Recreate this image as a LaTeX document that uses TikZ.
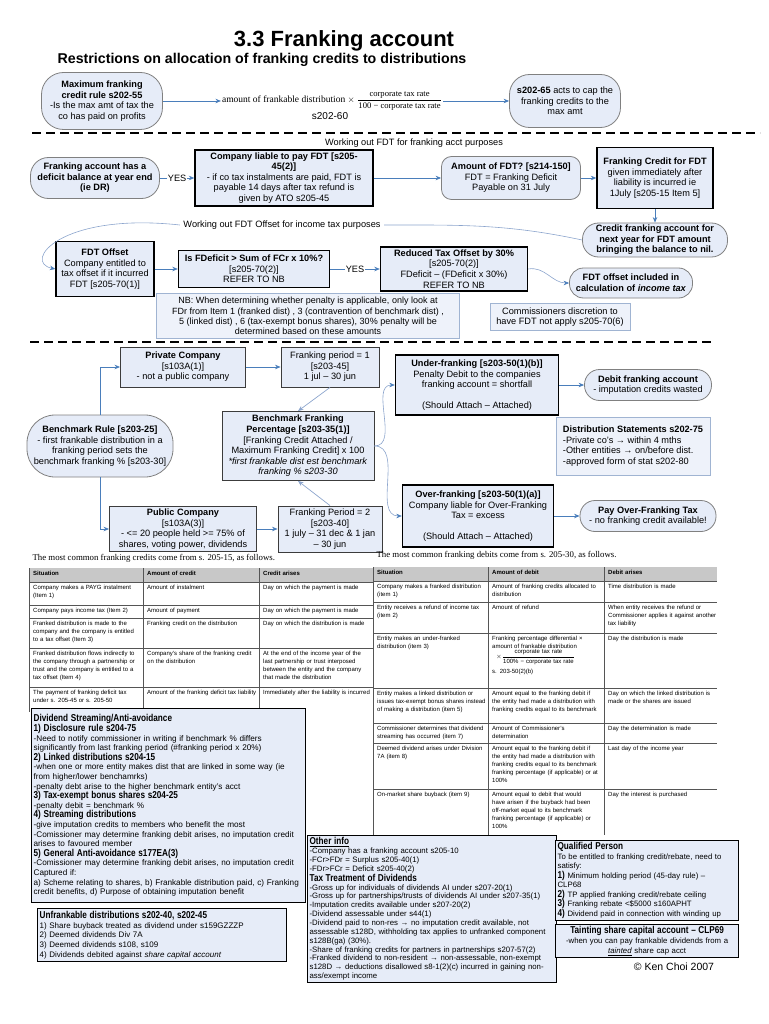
\documentclass[tikz,border=0pt]{standalone}
\usepackage{amsmath}
\usepackage{fontspec}
\setmainfont{Liberation Sans}
\newfontfamily\narrowface{Liberation Sans}[FakeStretch=0.82]
\newfontfamily\serifface{Liberation Serif}
\usetikzlibrary{arrows.meta}
\definecolor{boxfill}{RGB}{230,236,248}
\definecolor{notefill}{RGB}{238,242,250}
\definecolor{noteedge}{RGB}{160,180,210}
\definecolor{pillgray}{RGB}{128,128,128}
\definecolor{darkedge}{RGB}{60,60,60}
\definecolor{linkblue}{RGB}{74,126,187}
\definecolor{swirlblue}{RGB}{140,165,205}
\definecolor{headgray}{RGB}{200,200,200}
\definecolor{rulegray}{RGB}{85,85,85}
\newcommand\tabfont{\fontsize{6}{8}\selectfont\hyphenpenalty=10000\exhyphenpenalty=10000\relax}
\newcommand\headfont{\narrowface\bfseries\fontsize{10}{11}\selectfont}
\newcommand\capfont{\serifface\fontsize{8.8}{10}\selectfont}

\tikzset{
  base/.style={align=center, inner sep=1pt, fill=boxfill},
  pill/.style={base, draw=pillgray, line width=0.8pt, rounded corners=#1},
  pill/.default=12pt,
  heavy/.style={base, draw=black, line width=1.4pt},
  plainbox/.style={base, draw=darkedge, line width=0.9pt},
  note/.style={base, draw=noteedge, fill=notefill, line width=0.6pt},
  panel/.style={base, draw=black, line width=1.2pt, align=left, anchor=north west, inner sep=2pt, text width=#1},
  panel/.default=240pt,
  link/.style={draw=linkblue, line width=0.7pt, -{Stealth[length=5.5pt,width=4.5pt]}},
  swirl/.style={draw=swirlblue, line width=0.6pt},
  swirltip/.style={-{Stealth[length=5.5pt,width=4.5pt,color=linkblue]}},
  cut/.style={line width=1.3pt, dash pattern=on 9pt off 5pt},
  cell/.style={anchor=north west, inner sep=0pt, text width=#1, align=left, font=\tabfont},
  cell/.default=110pt,
  tabrule/.style={draw=rulegray, line width=0.8pt},
}

\begin{document}
\begin{tikzpicture}[x=1pt, y=-1pt, every node/.style={font=\fontsize{9.2}{10.6}\selectfont}]
\useasboundingbox (0,0) rectangle (768,1024);

% headings
\node[font=\fontsize{22}{26}\selectfont\bfseries] (title) at (344,41) {3.3 Franking account};
\node[font=\fontsize{14.2}{16}\selectfont\bfseries] (subtitle) at (262,60) {Restrictions on allocation of franking credits to distributions};

% maximum franking credit rule
\node[pill=22pt, minimum width=121pt, minimum height=57pt] (maxrule) at (102,101) {\textbf{Maximum franking}\\\textbf{credit rule s202-55}\\-Is the max amt of tax the\\co has paid on profits};
\node[font=\serifface\fontsize{9.5}{11}\selectfont, inner sep=1pt] (formula) at (332,101) {amount of frankable distribution $\times$ $\dfrac{\mbox{\fontsize{8.6}{9}\selectfont corporate tax rate}}{\mbox{\fontsize{8.6}{9}\selectfont 100 − corporate tax rate}}$};
\node[font=\fontsize{10}{12}\selectfont] (ruleref) at (330,116) {s202-60};
\node[pill=20pt, minimum width=111pt, minimum height=53pt] (capbox) at (565,101) {\textbf{s202-65} acts to cap the\\franking credits to the\\max amt};
\draw[link] (maxrule) -- (formula);
\draw[link] (formula) -- (capbox);

\draw[cut] (32,133) -- (760,133);
\node (fdtnote) at (414,143) {Working out FDT for franking acct purposes};

% franking deficit tax
\node[pill=18pt, minimum width=129pt, minimum height=41pt] (deficit) at (95,178) {\textbf{Franking account has a}\\\textbf{deficit balance at year end}\\\textbf{(ie DR)}};
\node[heavy, minimum width=178pt, minimum height=56pt] (liable) at (284,178) {\textbf{Company liable to pay FDT [s205-}\\\textbf{45(2)]}\\- if co tax instalments are paid, FDT is\\payable 14 days after tax refund is\\given by ATO s205-45};
\node[pill=10pt, minimum width=139pt, minimum height=43pt] (amount) at (511,178) {\textbf{Amount of FDT? [s214-150]}\\FDT = Franking Deficit\\Payable on 31 July};
\node[heavy, minimum width=116pt, minimum height=61pt] (frcredit) at (655,178) {\textbf{Franking Credit for FDT}\\given immediately after\\liability is incurred ie\\1July [s205-15 Item 5]};
\node[pill=16pt, minimum width=145pt, minimum height=34pt] (crediting) at (655,240) {\textbf{Credit franking account for}\\\textbf{next year for FDT amount}\\\textbf{bringing the balance to nil.}};
\draw[link] (deficit) -- node[fill=white, inner sep=1pt] (yesa) {YES} (liable);
\draw[link] (liable) -- (amount);
\draw[link] (amount) -- (frcredit);
\draw[link] (frcredit) -- (crediting);

% FDT offset
\node (offsetnote) at (282,225) {Working out FDT Offset for income tax purposes};
\node[heavy, minimum width=98pt, minimum height=55pt] (fdtoffset) at (105,269) {\textbf{FDT Offset}\\Company entitled to\\tax offset if it incurred\\FDT [s205-70(1)]};
\node[heavy, minimum width=151pt, minimum height=37pt] (isfdef) at (254,269) {\textbf{Is FDeficit > Sum of FCr x 10\%?}\\{[s205-70(2)]}\\REFER TO NB};
\node[heavy, minimum width=147pt, minimum height=44pt] (reduced) at (454,269) {\textbf{Reduced Tax Offset by 30\%}\\{[s205-70(2)]}\\FDeficit – (FDeficit x 30\%)\\REFER TO NB};
\node[pill=14pt, minimum width=123pt, minimum height=30pt] (fdtincl) at (631,283) {\textbf{FDT offset included in}\\\textbf{calculation of \textit{income tax}}};
\node[note, minimum width=303pt, minimum height=45pt, font=\fontsize{9}{10.4}\selectfont] (nbnote) at (308,316) {NB: When determining whether penalty is applicable, only look at\\FDr from Item 1 (franked dist) , 3 (contravention of benchmark dist) ,\\5 (linked dist) , 6 (tax-exempt bonus shares), 30\% penalty will be\\determined based on these amounts};
\node[note, minimum width=140pt, minimum height=27pt] (discretion) at (560,317) {Commissioners discretion to\\have FDT not apply s205-70(6)};
\draw[swirl] (crediting.west) to[out=168, in=0] (offsetnote.east);
\draw[swirl, swirltip] (offsetnote.west) .. controls (60,212) and (22,262) .. (fdtoffset.west);
\draw[link] (fdtoffset) -- (isfdef);
\draw[link] (isfdef) -- node[fill=white, inner sep=1pt] (yesb) {YES} (reduced);
\draw[swirl, swirltip] (reduced.east) to[out=10, in=180] (fdtincl.west);

\draw[cut] (30,342) -- (715,342);

% benchmark rule
\node[pill=28pt, minimum width=146pt, minimum height=62pt] (bench) at (100,446) {\textbf{Benchmark Rule [s203-25]}\\- first frankable distribution in a\\franking period sets the\\benchmark franking \% [s203-30]};
\node[plainbox, minimum width=125pt, minimum height=40pt] (private) at (183,367) {\textbf{Private Company}\\{[s103A(1)]}\\- not a public company};
\node[plainbox, minimum width=98pt, minimum height=40pt] (periodone) at (330,367) {Franking period = 1\\{[s203-45]}\\1 jul – 30 jun};
\node[plainbox, minimum width=152pt, minimum height=69pt] (bfp) at (298,446) {\textbf{Benchmark Franking}\\\textbf{Percentage [s203-35(1)]}\\{[Franking Credit Attached /}\\Maximum Franking Credit] x 100\\\textit{*first frankable dist est benchmark}\\\textit{franking \% s203-30}};
\node[plainbox, minimum width=147pt, minimum height=45pt] (public) at (183,529) {\textbf{Public Company}\\{[s103A(3)]}\\- <= 20 people held >= 75\% of\\shares, voting power, dividends};
\node[plainbox, minimum width=104pt, minimum height=46pt] (periodtwo) at (330,529) {Franking Period = 2\\{[s203-40]}\\1 july – 31 dec \& 1 jan\\– 30 jun};
\draw[link] (bench.north) |- (private.west);
\draw[link] (bench.south) |- (public.west);
\draw[link] (private) -- (periodone);
\draw[link] (public) -- (periodtwo);
\draw[link, draw=swirlblue] (periodone.south) -- (bfp.north);
\draw[link, draw=swirlblue] (periodtwo.north) -- (bfp.south);

% under / over franking
\node[heavy, minimum width=163pt, minimum height=60pt] (underfr) at (477,385) {\textbf{Under-franking [s203-50(1)(b)]}\\Penalty Debit to the companies\\franking account = shortfall\\[10pt](Should Attach – Attached)};
\node[pill=15pt, minimum width=127pt, minimum height=31pt] (debit) at (648,385) {\textbf{Debit franking account}\\- imputation credits wasted};
\node[note, align=left, minimum width=154pt, minimum height=58pt] (diststat) at (633,446) {\textbf{Distribution Statements s202-75}\\-Private co’s → within 4 mths\\-Other entities → on/before dist.\\-approved form of stat s202-80};
\node[heavy, minimum width=151pt, minimum height=62pt] (overfr) at (478,516) {\textbf{Over-franking [s203-50(1)(a)]}\\Company liable for Over-Franking\\Tax = excess\\[10pt](Should Attach – Attached)};
\node[pill=15pt, minimum width=136pt, minimum height=31pt] (paytax) at (648,516) {\textbf{Pay Over-Franking Tax}\\- no franking credit available!};
\draw[swirl, swirltip] (bfp.east) to[out=0, in=180] (underfr.west);
\draw[swirl, swirltip] (bfp.east) to[out=0, in=180] (overfr.west);
\draw[link] (underfr) -- (debit);
\draw[link] (overfr) -- (paytax);

% franking credits table
\node[anchor=west, font=\capfont] (credcap) at (29,558) {The most common franking credits come from s. 205-15, as follows.};
\fill[headgray] (29,568) rectangle (373,582);
\foreach \y in {582,605,618,648,687} \draw[tabrule] (29,\y) -- (373,\y);
\foreach \x in {29,143,259} \draw[tabrule] (\x,568) -- (\x,712);
\node[cell, font=\tabfont\bfseries] (ch1) at (33,571) {Situation};
\node[cell, font=\tabfont\bfseries] (ch2) at (147,571) {Amount of credit};
\node[cell, font=\tabfont\bfseries] (ch3) at (263,571) {Credit arises};
\node[cell] (ca1) at (33,585) {Company makes a PAYG instalment (Item 1)};
\node[cell] (cb1) at (147,585) {Amount of instalment};
\node[cell=106pt] (cc1) at (263,585) {Day on which the payment is made};
\node[cell] (ca2) at (33,608) {Company pays income tax (Item 2)};
\node[cell] (cb2) at (147,608) {Amount of payment};
\node[cell=106pt] (cc2) at (263,608) {Day on which the payment is made};
\node[cell] (ca3) at (33,621) {Franked distribution is made to the company and the company is entitled to a tax offset (Item 3)};
\node[cell] (cb3) at (147,621) {Franking credit on the distribution};
\node[cell=106pt] (cc3) at (263,621) {Day on which the distribution is made};
\node[cell] (ca4) at (33,651) {Franked distribution flows indirectly to the company through a partnership or trust and the company is entitled to a tax offset (Item 4)};
\node[cell] (cb4) at (147,651) {Company’s share of the franking credit on the distribution};
\node[cell=106pt] (cc4) at (263,651) {At the end of the income year of the last partnership or trust interposed between the entity and the company that made the distribution};
\node[cell] (ca5) at (33,690) {The payment of franking deficit tax under s. 205-45 or s. 205-50};
\node[cell] (cb5) at (147,690) {Amount of the franking deficit tax liability};
\node[cell=108pt] (cc5) at (263,690) {Immediately after the liability is incurred};

% franking debits table
\node[anchor=west, font=\capfont] (debcap) at (373,555) {The most common franking debits come from s. 205-30, as follows.};
\fill[headgray] (373,567) rectangle (717,581);
\foreach \y in {581,602,633,688,723,743,789} \draw[tabrule] (373,\y) -- (717,\y);
\foreach \x in {373,488,604} \draw[tabrule] (\x,567) -- (\x,835);
\node[cell, font=\tabfont\bfseries] (dh1) at (377,570) {Situation};
\node[cell, font=\tabfont\bfseries] (dh2) at (492,570) {Amount of debit};
\node[cell, font=\tabfont\bfseries] (dh3) at (608,570) {Debit arises};
\node[cell] (da1) at (377,584) {Company makes a franked distribution (item 1)};
\node[cell] (db1) at (492,584) {Amount of franking credits allocated to distribution};
\node[cell] (dc1) at (608,584) {Time distribution is made};
\node[cell] (da2) at (377,605) {Entity receives a refund of income tax (item 2)};
\node[cell] (db2) at (492,605) {Amount of refund};
\node[cell] (dc2) at (608,605) {When entity receives the refund or Commissioner applies it against another tax liability};
\node[cell] (da3) at (377,636) {Entity makes an under-franked distribution (item 3)};
\node[cell] (db3) at (492,636) {Franking percentage differential ×\\amount of frankable distribution\\\hspace*{4pt}$\times\dfrac{\mbox{\tabfont corporate tax rate}}{\mbox{\tabfont 100\% − corporate tax rate}}$\\[3pt]s. 203-50(2)(b)};
\node[cell] (dc3) at (608,636) {Day the distribution is made};
\node[cell] (da4) at (377,691) {Entity makes a linked distribution or issues tax-exempt bonus shares instead of making a distribution (item 5)};
\node[cell] (db4) at (492,691) {Amount equal to the franking debit if the entity had made a distribution with franking credits equal to its benchmark};
\node[cell] (dc4) at (608,691) {Day on which the linked distribution is made or the shares are issued};
\node[cell] (da5) at (377,726) {Commissioner determines that dividend streaming has occurred (item 7)};
\node[cell] (db5) at (492,726) {Amount of Commissioner’s determination};
\node[cell] (dc5) at (608,726) {Day the determination is made};
\node[cell] (da6) at (377,746) {Deemed dividend arises under Division 7A (item 8)};
\node[cell] (db6) at (492,746) {Amount equal to the franking debit if the entity had made a distribution with franking credits equal to its benchmark franking percentage (if applicable) or at 100\%};
\node[cell] (dc6) at (608,746) {Last day of the income year};
\node[cell] (da7) at (377,792) {On-market share buyback (item 9)};
\node[cell] (db7) at (492,792) {Amount equal to debit that would have arisen if the buyback had been off-market equal to its benchmark franking percentage (if applicable) or 100\%};
\node[cell] (dc7) at (608,792) {Day the interest is purchased};

% panels
\node[panel=270pt, minimum height=194pt, font=\fontsize{8.2}{9.6}\selectfont] (streaming) at (31,708) {{\headfont Dividend Streaming/Anti-avoidance}\\
{\headfont 1) Disclosure rule s204-75}\\
-Need to notify commissioner in writing if benchmark \% differs\\
significantly from last franking period (\#franking period x 20\%)\\
{\headfont 2) Linked distributions s204-15}\\
-when one or more entity makes dist that are linked in some way (ie\\
from higher/lower benchamrks)\\
-penalty debt arise to the higher benchmark entity’s acct\\
{\headfont 3) Tax-exempt bonus shares s204-25}\\
-penalty debit = benchmark \%\\
{\headfont 4) Streaming distributions}\\
-give imputation credits to members who benefit the most\\
-Comissioner may determine franking debit arises, no imputation credit\\
arises to favoured member\\
{\headfont 5) General Anti-avoidance s177EA(3)}\\
-Comissioner may determine franking debit arises, no imputation credit\\
Captured if:\\
a) Scheme relating to shares, b) Frankable distribution paid, c) Franking\\
credit benefits, d) Purpose of obtaining imputation benefit};
\node[panel=245pt, minimum height=53pt, font=\fontsize{8}{9.7}\selectfont] (unfrank) at (37,908) {{\headfont Unfrankable distributions s202-40, s202-45}\\
1) Share buyback treated as dividend under s159GZZZP\\
2) Deemed dividends Div 7A\\
3) Deemed dividends s108, s109\\
4) Dividends debited against \textit{share capital account}};
\node[panel=245pt, minimum height=143pt, font=\fontsize{7.8}{8.85}\selectfont] (otherinfo) at (307,835) {{\headfont\underline{Other info}}\\
-Company has a franking account s205-10\\
-FCr>FDr = Surplus s205-40(1)\\
-FDr>FCr = Deficit s205-40(2)\\
{\headfont Tax Treatment of Dividends}\\
-Gross up for individuals of dividends AI under s207-20(1)\\
-Gross up for partnerships/trusts of dividends AI under s207-35(1)\\
-Imputation credits available under s207-20(2)\\
-Dividend assessable under s44(1)\\
-Dividend paid to non-res → no imputation credit available, not\\
assessable s128D, withholding tax applies to unfranked component\\
s128B(ga) (30\%).\\
-Share of franking credits for partners in partnerships s207-57(2)\\
-Franked dividend to non-resident → non-assessable, non-exempt\\
s128D → deductions disallowed s8-1(2)(c) incurred in gaining non-\\
ass/exempt income};
\node[panel=179pt, minimum height=78pt, font=\fontsize{7.8}{9.5}\selectfont] (qualified) at (555,840) {{\headfont Qualified Person}\\
To be entitled to franking credit/rebate, need to\\
satisfy:\\
{\headfont 1)} Minimum holding period (45-day rule) –\\
CLP68\\
{\headfont 2)} TP applied franking credit/rebate ceiling\\
{\headfont 3)} Franking rebate <\$5000 s160APHT\\
{\headfont 4)} Dividend paid in connection with winding up};
\node[panel=179pt, align=center, minimum height=33pt, font=\fontsize{7.8}{10}\selectfont] (tainting) at (555,924) {{\headfont Tainting share capital account – CLP69}\\
-when you can pay frankable dividends from a\\
\underline{\textit{tainted}} share cap acct};
\node[font=\fontsize{10.5}{12}\selectfont] (credit) at (674,967) {© Ken Choi 2007};
\end{tikzpicture}
\end{document}
